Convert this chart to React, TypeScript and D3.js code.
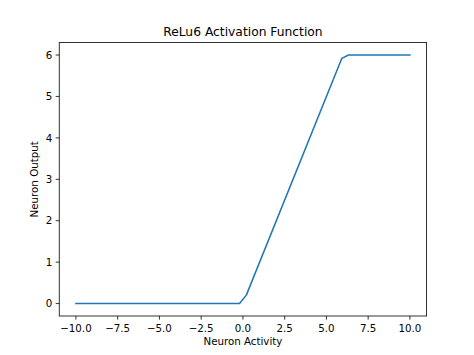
import React from "react";
import * as d3 from "d3";

const xs = [-10, -0.204, 0.204, 5.918, 6.327, 10];
const ys = [0, 0, 0.204, 5.918, 6, 6];
const xTicks = [-10, -7.5, -5, -2.5, 0, 2.5, 5, 7.5, 10];
const yTicks = [0, 1, 2, 3, 4, 5, 6];

const W = 474, H = 355;
const L = 59.25, R = 426.6, T = 42.6, B = 316;
const font = "DejaVu Sans, sans-serif";

export default function App() {
  const x = d3.scaleLinear().domain([-11, 11]).range([L, R]);
  const y = d3.scaleLinear().domain([-0.3, 6.3]).range([B, T]);
  const pts: [number, number][] = xs.map((v, i) => [v, ys[i]]);
  const line = d3.line<[number, number]>().x(d => x(d[0])).y(d => y(d[1]));
  const fmtX = (v: number) => v.toFixed(1).replace("-", "\u2212");
  return (
    <svg width={W} height={H} style={{ position: "absolute", left: 0, top: 0, background: "#fff" }}>
      <rect x={0} y={0} width={W} height={H} fill="#fff" />
      <path d={line(pts) || ""} fill="none" stroke="#1f77b4" strokeWidth={1.54} strokeLinejoin="round" strokeLinecap="square" />
      <rect x={L} y={T} width={R - L} height={B - T} fill="none" stroke="#000" strokeWidth={0.8} />
      {xTicks.map(t => (
        <g key={"x" + t}>
          <line x1={x(t)} x2={x(t)} y1={B} y2={B + 3.6} stroke="#000" strokeWidth={0.8} />
          <text x={x(t)} y={B + 15.5} textAnchor="middle" fontFamily={font} fontSize={10.28} fill="#000">{fmtX(t)}</text>
        </g>
      ))}
      {yTicks.map(t => (
        <g key={"y" + t}>
          <line x1={L - 3.6} x2={L} y1={y(t)} y2={y(t)} stroke="#000" strokeWidth={0.8} />
          <text x={L - 7} y={y(t)} dy="0.36em" textAnchor="end" fontFamily={font} fontSize={10.28} fill="#000">{t}</text>
        </g>
      ))}
      <text x={(L + R) / 2} y={345} textAnchor="middle" fontFamily={font} fontSize={10.28} fill="#000">Neuron Activity</text>
      <text transform={`translate(${38},${(T + B) / 2}) rotate(-90)`} textAnchor="middle" fontFamily={font} fontSize={10.28} fill="#000">Neuron Output</text>
      <text x={(L + R) / 2} y={36} textAnchor="middle" fontFamily={font} fontSize={12.3} fill="#000">ReLu6 Activation Function</text>
    </svg>
  );
}
